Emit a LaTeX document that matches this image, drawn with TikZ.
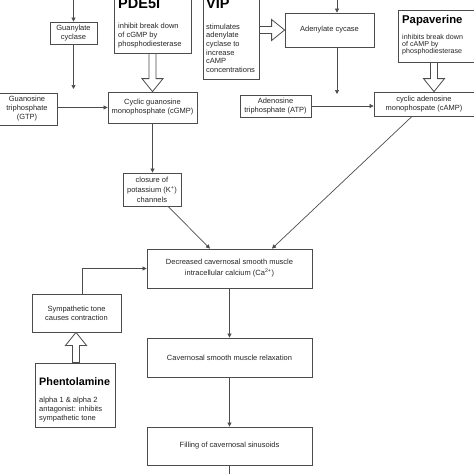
\documentclass[tikz,border=0pt]{standalone}
\usepackage{fontspec}
\setmainfont{Liberation Sans}
\usetikzlibrary{arrows.meta,calc}
\newcommand\hollowdown[2]{\draw[hollow] ($(#1)+(-3.5,0)$) -- ($(#2)+(-3.5,-13)$) -- ($(#2)+(-10.5,-13)$) -- (#2) -- ($(#2)+(10.5,-13)$) -- ($(#2)+(3.5,-13)$) -- ($(#1)+(3.5,0)$) -- cycle;}
\newcommand\hollowup[2]{\draw[hollow] ($(#1)+(-3.5,0)$) -- ($(#2)+(-3.5,13)$) -- ($(#2)+(-10.5,13)$) -- (#2) -- ($(#2)+(10.5,13)$) -- ($(#2)+(3.5,13)$) -- ($(#1)+(3.5,0)$) -- cycle;}
\newcommand\hollowright[2]{\draw[hollow] ($(#1)+(0,-3.5)$) -- ($(#2)+(-13,-3.5)$) -- ($(#2)+(-13,-10.5)$) -- (#2) -- ($(#2)+(-13,10.5)$) -- ($(#2)+(-13,3.5)$) -- ($(#1)+(0,3.5)$) -- cycle;}
\begin{document}
\begin{tikzpicture}[x=1pt,y=-1pt,
  box/.style={draw=black!70, line width=0.8pt, fill=white, inner sep=0pt, align=center, font=\fontsize{7.5}{9}\selectfont, text=black!85},
  txt/.style={inner sep=0pt, align=left, anchor=north west, font=\fontsize{7.5}{8.7}\selectfont, text=black!85},
  ttl/.style={inner sep=0pt, anchor=base west, font=\fontsize{14.5}{16}\selectfont\bfseries, text=black},
  arr/.style={draw=black!70, line width=0.7pt, -{Triangle[length=4pt,width=4pt]}},
  ln/.style={draw=black!70, line width=0.7pt},
  hollow/.style={draw=black!70, line width=0.8pt, fill=white, line join=miter}]
\useasboundingbox (0,0) rectangle (474,474);

% simple boxes
\node[box, minimum width=47pt, minimum height=22pt] (gc) at (73.5,33) {Guanylate\\cyclase};
\node[box, minimum width=60pt, minimum height=32pt] (gtp) at (27,109) {Guanosine\\triphosphate\\(GTP)};
\node[box, minimum width=89pt, minimum height=31pt] (cgmp) at (152.5,107.5) {Cyclic guanosine\\monophosphate (cGMP)};
\node[box, minimum width=89pt, minimum height=34pt] (aden) at (329.5,30) {Adenylate cycase};
\node[box, minimum width=71pt, minimum height=22pt] (atp) at (275.5,106) {Adenosine\\triphosphate (ATP)};
\node[box, minimum width=100pt, minimum height=24pt] (camp) at (424,104) {cyclic adenosine\\monophospate (cAMP)};
\node[box, minimum width=58pt, minimum height=33pt, font=\fontsize{7.5}{10}\selectfont] (k) at (152,189.5) {closure of\\potassium (K\textsuperscript{+})\\channels};
\node[box, minimum width=165pt, minimum height=39pt, font=\fontsize{7.5}{11}\selectfont] (dec) at (229.5,268.5) {Decreased cavernosal smooth muscle\\intracellular calcium (Ca\textsuperscript{2+})};
\node[box, minimum width=89pt, minimum height=38pt] (symp) at (76.5,313) {Sympathetic tone\\causes contraction};
\node[box, minimum width=165pt, minimum height=39pt] (relax) at (229.5,357.5) {Cavernosal smooth muscle relaxation};
\node[box, minimum width=165pt, minimum height=38pt] (fill) at (229.5,446) {Filling of cavernosal sinusoids};

% drug boxes
\node[box, minimum width=77pt, minimum height=63pt] (pde) at (152.5,21.5) {};
\node[ttl] (pdeT) at (118,8) {PDE5I};
\node[txt] (pdeB) at (118,23) {inhibit break down\\of cGMP by\\phosphodiesterase};

\node[box, minimum width=56pt, minimum height=89pt] (vip) at (231,34.5) {};
\node[ttl] (vipT) at (206,8) {VIP};
\node[txt] (vipB) at (206,23.5) {stimulates\\adenylate\\cyclase to\\increase\\cAMP\\concentrations};

\node[box, minimum width=80pt, minimum height=52pt] (pap) at (438,36) {};
\node[ttl, font=\fontsize{11.3}{13}\selectfont\bfseries] (papT) at (402,23) {Papaverine};
\node[txt, font=\fontsize{7.1}{6.9}\selectfont] (papB) at (402,34) {inhibits break down\\of cAMP by\\phosphodiesterase};

\node[box, minimum width=80pt, minimum height=64pt] (phen) at (75,395) {};
\node[ttl, font=\fontsize{10.8}{13}\selectfont\bfseries] (phenT) at (39,385.5) {Phentolamine};
\node[txt] (phenB) at (39,397) {alpha 1 \& alpha 2\\antagonist: inhibits\\sympathetic tone};

% coordinates
\coordinate (in1) at (73.5,-2);
\coordinate (gcEnd) at (73.5,89);
\coordinate (in2) at (337,-2);
\coordinate (adEnd) at (337,94);
\coordinate (out1) at (229.5,480);

% connectors
\draw[arr] (in1) -- (gc.north);
\draw[arr] (gc.south) -- (gcEnd);
\draw[arr] (in2) -- (in2 |- aden.north);
\draw[arr] (in2 |- aden.south) -- (adEnd);
\draw[arr] (gtp.east |- cgmp.west) -- (cgmp.west);
\draw[arr] (atp.east) -- (atp.east -| camp.west);
\draw[arr] (cgmp.south) -- (cgmp.south |- k.north);
\draw[arr] ([xshift=16pt]k.south) -- ([xshift=-19.5pt]dec.north);
\draw[arr] ([xshift=-12pt]camp.south) -- ([xshift=42.5pt]dec.north);
\draw[arr] ([xshift=5.5pt]symp.north) |- (dec.west);
\draw[arr] (dec.south) -- (relax.north);
\draw[arr] (relax.south) -- (fill.north);
\draw[ln] (fill.south) -- (out1);

% hollow arrows
\coordinate (h1a) at (pde.south);
\coordinate (h1b) at (cgmp.north);
\hollowdown{h1a}{h1b}
\coordinate (h2b) at (aden.west);
\coordinate (h2a) at (vip.east |- h2b);
\hollowright{h2a}{h2b}
\coordinate (h3a) at ([xshift=-4pt]pap.south);
\coordinate (h3b) at (h3a |- camp.north);
\hollowdown{h3a}{h3b}
\coordinate (h4a) at ([xshift=1pt]phen.north);
\coordinate (h4b) at (h4a |- symp.south);
\hollowup{h4a}{h4b}
\end{tikzpicture}
\end{document}
